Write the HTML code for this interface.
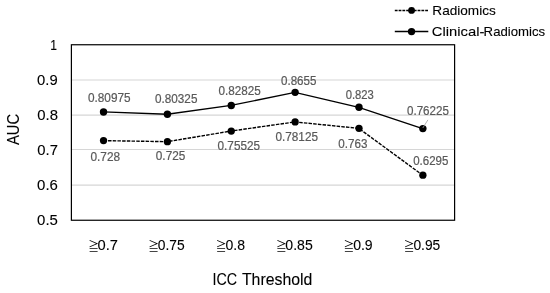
<!DOCTYPE html><html><head><meta charset="utf-8"><title>AUC vs ICC Threshold</title>
<style>html,body{margin:0;padding:0;background:#fff}svg{display:block}text{font-family:"Liberation Sans","Noto Sans CJK JP",sans-serif}</style></head><body>
<svg width="550" height="293" viewBox="0 0 550 293">
<rect width="550" height="293" fill="#fff"/>
<line x1="71.4" x2="454.6" y1="185.15" y2="185.15" stroke="#d6d6d6" stroke-width="1.15"/>
<line x1="71.4" x2="454.6" y1="149.45" y2="149.45" stroke="#d6d6d6" stroke-width="1.15"/>
<line x1="71.4" x2="454.6" y1="115.05" y2="115.05" stroke="#d6d6d6" stroke-width="1.15"/>
<line x1="71.4" x2="454.6" y1="79.95" y2="79.95" stroke="#d6d6d6" stroke-width="1.15"/>
<rect x="71.4" y="44.75" width="383.20" height="175.50" fill="none" stroke="#000" stroke-width="1.2"/>
<polyline points="103.33,111.93 167.20,114.21 231.07,105.43 294.93,92.36 358.80,107.28 422.67,128.60" fill="none" stroke="#000" stroke-width="1.35"/>
<polyline points="103.33,140.62 167.20,141.68 231.07,131.06 294.93,121.93 358.80,128.34 422.67,175.20" fill="none" stroke="#000" stroke-width="1.4" stroke-dasharray="3.5 1.2"/>
<circle cx="103.53" cy="140.62" r="3.65" fill="#000"/>
<circle cx="167.40" cy="141.68" r="3.65" fill="#000"/>
<circle cx="231.27" cy="131.06" r="3.65" fill="#000"/>
<circle cx="295.13" cy="121.93" r="3.65" fill="#000"/>
<circle cx="359.00" cy="128.34" r="3.65" fill="#000"/>
<circle cx="422.87" cy="175.20" r="3.65" fill="#000"/>
<circle cx="103.53" cy="111.93" r="3.7" fill="#000"/>
<circle cx="167.40" cy="114.21" r="3.7" fill="#000"/>
<circle cx="231.27" cy="105.43" r="3.7" fill="#000"/>
<circle cx="295.13" cy="92.36" r="3.7" fill="#000"/>
<circle cx="359.00" cy="107.28" r="3.7" fill="#000"/>
<circle cx="422.87" cy="128.60" r="3.7" fill="#000"/>
<line x1="427.9" y1="119.9" x2="422.8" y2="128.0" stroke="#a0a0a0" stroke-width="0.8"/>
<line x1="394.8" x2="428.3" y1="10.5" y2="10.5" stroke="#000" stroke-width="1.5" stroke-dasharray="2.8 1.0"/>
<circle cx="411.55" cy="10.4" r="3.4" fill="#000"/>
<line x1="394.8" x2="428.3" y1="31.6" y2="31.6" stroke="#000" stroke-width="1.5"/>
<circle cx="411.55" cy="31.6" r="3.7" fill="#000"/>
<g>
<text x="432.32" y="14.90" font-size="12.8" fill="#000" stroke="#000" stroke-width="0.1" textLength="63.55" lengthAdjust="spacingAndGlyphs">Radiomics</text>
<text y="36.10" font-size="12.8" fill="#000" stroke="#000" stroke-width="0.1"><tspan x="431.79" textLength="52.60" lengthAdjust="spacingAndGlyphs">Clinical-</tspan><tspan x="483.64" textLength="61.50" lengthAdjust="spacingAndGlyphs">Radiomics</tspan></text>
</g>
<g>
<text x="50.19" y="49.75" font-size="13.9" fill="#000" stroke="#000" stroke-width="0.1" textLength="6.73" lengthAdjust="spacingAndGlyphs">1</text>
<text x="37.13" y="84.85" font-size="13.9" fill="#000" stroke="#000" stroke-width="0.1" textLength="20.58" lengthAdjust="spacingAndGlyphs">0.9</text>
<text x="37.23" y="119.95" font-size="13.9" fill="#000" stroke="#000" stroke-width="0.1" textLength="20.70" lengthAdjust="spacingAndGlyphs">0.8</text>
<text x="37.29" y="155.05" font-size="13.9" fill="#000" stroke="#000" stroke-width="0.1" textLength="20.61" lengthAdjust="spacingAndGlyphs">0.7</text>
<text x="37.13" y="190.15" font-size="13.9" fill="#000" stroke="#000" stroke-width="0.1" textLength="20.81" lengthAdjust="spacingAndGlyphs">0.6</text>
<text x="37.13" y="225.25" font-size="13.9" fill="#000" stroke="#000" stroke-width="0.1" textLength="20.78" lengthAdjust="spacingAndGlyphs">0.5</text>
</g>
<text transform="translate(18.5,145) rotate(-90)" font-size="15.9" textLength="31.2" lengthAdjust="spacingAndGlyphs" fill="#000" stroke="#000" stroke-width="0.1">AUC</text>
<g>
<text x="87.99" y="101.60" font-size="11.9" fill="#595959" stroke="#595959" stroke-width="0.2" textLength="42.60" lengthAdjust="spacingAndGlyphs">0.80975</text>
<text x="155.06" y="103.20" font-size="11.9" fill="#595959" stroke="#595959" stroke-width="0.2" textLength="42.35" lengthAdjust="spacingAndGlyphs">0.80325</text>
<text x="218.50" y="94.90" font-size="11.9" fill="#595959" stroke="#595959" stroke-width="0.2" textLength="42.28" lengthAdjust="spacingAndGlyphs">0.82825</text>
<text x="281.04" y="84.60" font-size="11.9" fill="#595959" stroke="#595959" stroke-width="0.2" textLength="35.41" lengthAdjust="spacingAndGlyphs">0.8655</text>
<text x="345.65" y="99.00" font-size="11.9" fill="#595959" stroke="#595959" stroke-width="0.2" textLength="28.17" lengthAdjust="spacingAndGlyphs">0.823</text>
<text x="406.97" y="114.60" font-size="11.9" fill="#595959" stroke="#595959" stroke-width="0.2" textLength="41.96" lengthAdjust="spacingAndGlyphs">0.76225</text>
<text x="90.47" y="160.65" font-size="11.9" fill="#595959" stroke="#595959" stroke-width="0.2" textLength="29.59" lengthAdjust="spacingAndGlyphs">0.728</text>
<text x="155.82" y="159.95" font-size="11.9" fill="#595959" stroke="#595959" stroke-width="0.2" textLength="29.49" lengthAdjust="spacingAndGlyphs">0.725</text>
<text x="217.57" y="149.75" font-size="11.9" fill="#595959" stroke="#595959" stroke-width="0.2" textLength="42.48" lengthAdjust="spacingAndGlyphs">0.75525</text>
<text x="275.45" y="141.25" font-size="11.9" fill="#595959" stroke="#595959" stroke-width="0.2" textLength="42.58" lengthAdjust="spacingAndGlyphs">0.78125</text>
<text x="338.32" y="147.95" font-size="11.9" fill="#595959" stroke="#595959" stroke-width="0.2" textLength="29.11" lengthAdjust="spacingAndGlyphs">0.763</text>
<text x="413.18" y="165.20" font-size="11.9" fill="#595959" stroke="#595959" stroke-width="0.2" textLength="35.23" lengthAdjust="spacingAndGlyphs">0.6295</text>
</g>
<g>
<text font-size="13.9" fill="#000"><tspan x="88.13" y="251.2" font-size="12.5" textLength="10.75" lengthAdjust="spacingAndGlyphs">≧</tspan><tspan x="97.62" y="250.10" stroke="#000" stroke-width="0.1" textLength="20.41" lengthAdjust="spacingAndGlyphs">0.7</tspan></text>
<text font-size="13.9" fill="#000"><tspan x="148.20" y="251.2" font-size="12.5" textLength="10.75" lengthAdjust="spacingAndGlyphs">≧</tspan><tspan x="157.80" y="250.10" stroke="#000" stroke-width="0.1" textLength="26.92" lengthAdjust="spacingAndGlyphs">0.75</tspan></text>
<text font-size="13.9" fill="#000"><tspan x="215.87" y="251.2" font-size="12.5" textLength="10.75" lengthAdjust="spacingAndGlyphs">≧</tspan><tspan x="225.58" y="250.10" stroke="#000" stroke-width="0.1" textLength="19.48" lengthAdjust="spacingAndGlyphs">0.8</tspan></text>
<text font-size="13.9" fill="#000"><tspan x="275.93" y="251.2" font-size="12.5" textLength="10.75" lengthAdjust="spacingAndGlyphs">≧</tspan><tspan x="285.33" y="250.10" stroke="#000" stroke-width="0.1" textLength="27.39" lengthAdjust="spacingAndGlyphs">0.85</tspan></text>
<text font-size="13.9" fill="#000"><tspan x="343.60" y="251.2" font-size="12.5" textLength="10.75" lengthAdjust="spacingAndGlyphs">≧</tspan><tspan x="353.15" y="250.10" stroke="#000" stroke-width="0.1" textLength="19.54" lengthAdjust="spacingAndGlyphs">0.9</tspan></text>
<text font-size="13.9" fill="#000"><tspan x="403.67" y="251.2" font-size="12.5" textLength="10.75" lengthAdjust="spacingAndGlyphs">≧</tspan><tspan x="413.38" y="250.10" stroke="#000" stroke-width="0.1" textLength="26.86" lengthAdjust="spacingAndGlyphs">0.95</tspan></text>
</g>
<text y="285.10" font-size="15.9" fill="#000" stroke="#000" stroke-width="0.1"><tspan x="212.49" textLength="24.59" lengthAdjust="spacingAndGlyphs">ICC</tspan> <tspan x="241.94" textLength="70.49" lengthAdjust="spacingAndGlyphs">Threshold</tspan></text>
</svg></body></html>
